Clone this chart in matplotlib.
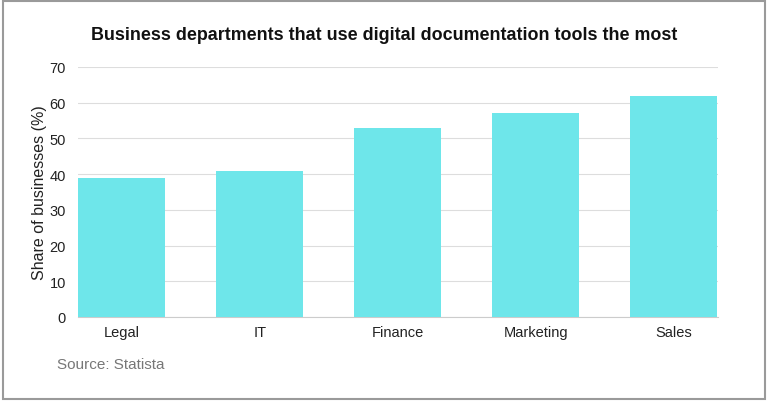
import matplotlib
matplotlib.use("Agg")
import matplotlib.pyplot as plt
from matplotlib.patches import Rectangle

categories = ["Legal", "IT", "Finance", "Marketing", "Sales"]
values = [39, 41, 53, 57, 62]
yticks = [0, 10, 20, 30, 40, 50, 60, 70]

plt.rcParams['font.family'] = ['Liberation Sans', 'DejaVu Sans']
fig = plt.figure(figsize=(7.68, 4.02), dpi=100)
fig.patches.append(Rectangle((0.004, 0.006), 0.992, 0.988, transform=fig.transFigure,
                             fill=False, edgecolor="#9a9a9a", linewidth=1.5))
ax = fig.add_axes([0.102, 0.209, 0.833, 0.622])
x = range(len(categories))
ax.bar(x, values, width=0.63, color="#6ee6ea", zorder=3)
ax.set_xlim(-0.315, 4.32)
ax.set_ylim(0, 70)
ax.set_yticks(yticks)
ax.set_xticks(list(x))
ax.set_xticklabels(categories)
ax.grid(axis="y", color="#dddddd", linewidth=0.8, zorder=0)
for s in ["top", "right", "left"]:
    ax.spines[s].set_visible(False)
ax.spines["bottom"].set_color("#cccccc")
ax.tick_params(length=0, labelsize=10.5, colors="#222222")
ax.tick_params(axis="y", pad=9)
ax.tick_params(axis="x", pad=6)
ax.set_ylabel("Share of businesses (%)", fontsize=11.5, color="#222222", labelpad=2)
fig.text(0.5, 0.912, "Business departments that use digital documentation tools the most",
         ha="center", va="center", fontsize=12.9, fontweight="bold", color="#111111")
fig.text(0.074, 0.092, "Source: Statista", ha="left", va="center", fontsize=11, color="#777777")
fig.savefig("out.png", dpi=100)
